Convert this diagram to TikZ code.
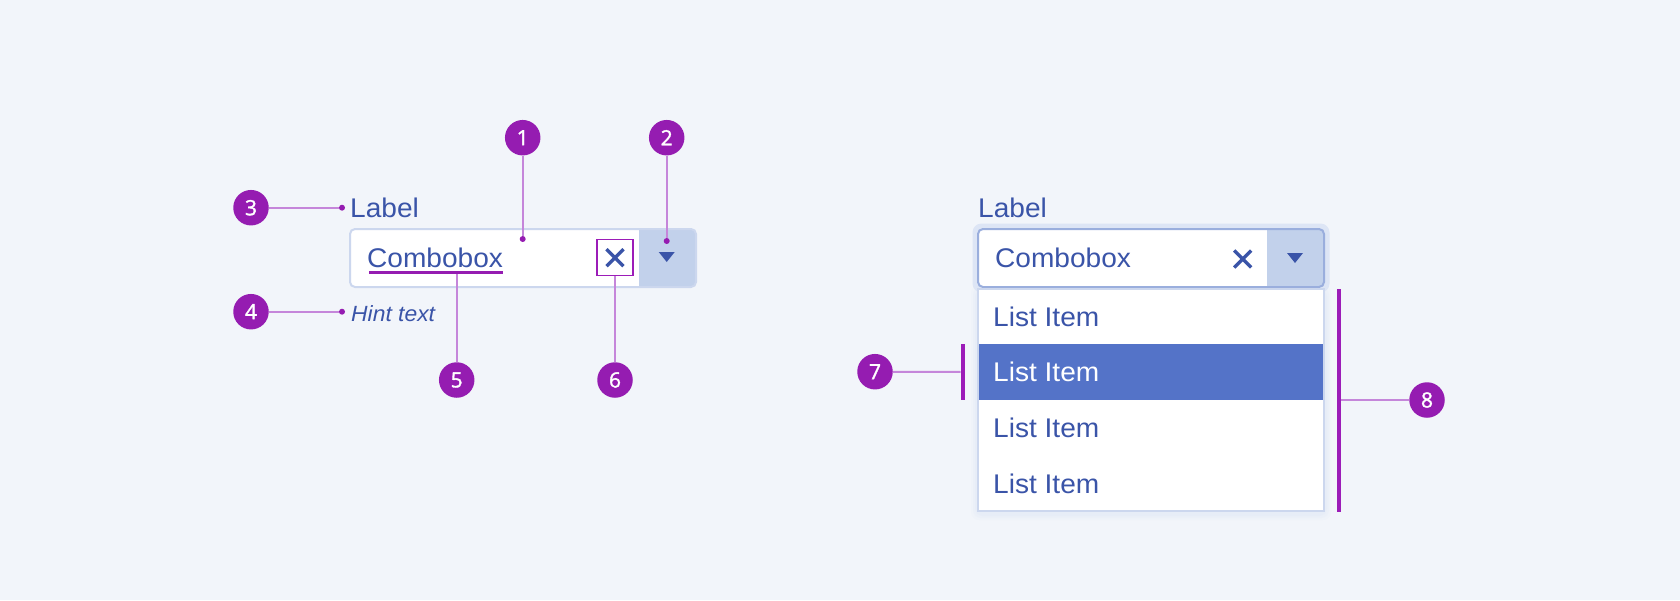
\documentclass[tikz,border=0pt]{standalone}
\usepackage{fontspec}
\setmainfont[FakeStretch=1.04]{Liberation Sans}
\newfontfamily\numfont[FakeBold=1.6]{Open Sans}
\definecolor{bg}{HTML}{F2F5FA}
\definecolor{txt}{HTML}{3A54A8}
\definecolor{sel}{HTML}{5473C8}
\definecolor{btn}{HTML}{C2D1EB}
\definecolor{focus}{HTML}{9AAEDD}
\definecolor{halo}{HTML}{DDE5F5}
\definecolor{bord}{HTML}{CCD7EE}
\definecolor{pur}{HTML}{951CB1}
\definecolor{conn}{HTML}{C586DA}
\definecolor{barc}{HTML}{9C1CB8}
\begin{document}
\begin{tikzpicture}[x=1pt,y=-1pt,
  badge/.style={circle,fill=pur,minimum size=35.5pt,inner sep=0pt,text=white,
    font=\numfont\fontsize{21}{21}\selectfont},
  conline/.style={draw=conn,line width=2pt},
  dotend/.style={circle,fill=pur,inner sep=0pt,minimum size=6pt},
  uitext/.style={anchor=base west,inner sep=0pt,text=txt,font=\fontsize{27}{32}\selectfont},
  hinttext/.style={anchor=base west,inner sep=0pt,text=txt,font=\itshape\fontsize{22}{26}\selectfont},
  xicon/.style={draw=txt,line width=3.4pt},
  markbar/.style={fill=barc,inner sep=0pt,minimum width=4pt},
]
\fill[bg] (0,0) rectangle (1680,600);
\useasboundingbox (0,0) rectangle (1680,600);

% ---------- left combobox ----------
\fill[white,rounded corners=5pt] (350,229) rectangle (696,287);
\begin{scope}
  \clip[rounded corners=5pt] (350,229) rectangle (696,287);
  \fill[btn] (639,229) rectangle (696,287);
\end{scope}
\draw[bord,line width=2pt,rounded corners=5pt] (350,229) rectangle (696,287);

\node[uitext] (lab1) at (350,217.7) {Label};
\node[uitext] (cb1) at (367,267.7) {Combobox};
\node[hinttext] (hint) at (351,321) {Hint text};
\draw[xicon] (606.5,249.2) -- (623.5,266.2) (606.5,266.2) -- (623.5,249.2);
\fill[txt] (658.7,252) -- (674.7,252) -- (666.7,262) -- cycle;

% annotation underline and x box
\coordinate (u5) at (456.7,272.3);
\node[draw=barc,line width=1.2pt,minimum size=36pt,inner sep=0pt] (xbox) at (615,257.8) {};

% ---------- right combobox ----------
\foreach \g/\o in {7/0.12,5/0.18,3/0.25}{
  \fill[halo,opacity=\o,rounded corners=8pt] (978-\g,292-\g) rectangle (1324+\g,511+\g+2);
}
\fill[halo,rounded corners=9pt] (972.5,223.5) rectangle (1329.5,292.5);
\fill[white,rounded corners=5pt] (978,229) rectangle (1324,287);
\begin{scope}
  \clip[rounded corners=5pt] (978,229) rectangle (1324,287);
  \fill[btn] (1267,229) rectangle (1324,287);
\end{scope}
\draw[focus,line width=2pt,rounded corners=5pt] (978,229) rectangle (1324,287);
\node[uitext] (lab2) at (978,217.7) {Label};
\node[uitext] (cb2) at (995,267.3) {Combobox};
\draw[xicon] (1234.2,250.5) -- (1251.2,267.5) (1234.2,267.5) -- (1251.2,250.5);
\fill[txt] (1287,253) -- (1303,253) -- (1295,263) -- cycle;

% list
\fill[white] (978,289) rectangle (1324,511);
\fill[sel] (979,344) rectangle (1323,400);
\draw[bord,line width=1.5pt] (978,289) rectangle (1324,511);
\node[uitext] (li1) at (993,326.7) {List Item};
\node[uitext,text=white] (li2) at (993,381.7) {List Item};
\node[uitext] (li3) at (993,437.3) {List Item};
\node[uitext] (li4) at (993,493.3) {List Item};

% ---------- annotations ----------
\node[badge] (b1) at (522.7,137.7) {1};
\node[badge] (b2) at (666.7,137.7) {2};
\node[badge] (b3) at (251,207.7) {3};
\node[badge] (b4) at (251,311.7) {4};
\node[badge] (b5) at (456.7,380) {5};
\node[badge] (b6) at (615,380) {6};
\node[badge] (b7) at (875,371.7) {7};
\node[badge] (b8) at (1427,400) {8};

\node[dotend] (d1) at (522.7,239) {};
\node[dotend] (d2) at (666.7,241) {};
\node[dotend] (d3) at (342,207.7) {};
\node[dotend] (d4) at (342,311.7) {};
\node[markbar,minimum height=56pt] (bar7) at (962.7,372) {};
\node[markbar,minimum height=223pt] (bar8) at (1339,400) {};

\draw[conline] (b1) -- (d1);
\draw[conline] (b2) -- (d2);
\draw[conline] (b3) -- (d3);
\draw[conline] (b4) -- (d4);
\draw[conline] (b5) -- (u5);
\draw[conline] (b6) -- (xbox);
\draw[conline] (b7) -- (bar7);
\draw[conline] (b8) -- (bar8);

\draw[pur,line width=2.5pt] (369,272.3) -- (503,272.3);
\end{tikzpicture}
\end{document}
